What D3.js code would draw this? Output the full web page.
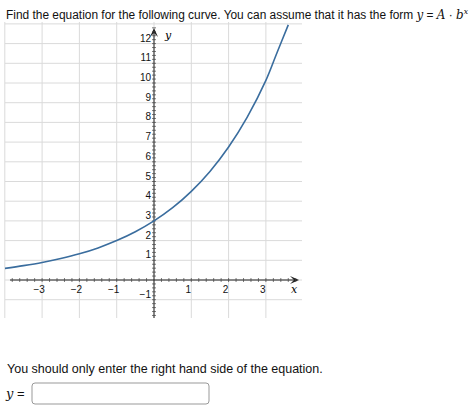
<!DOCTYPE html><html><head><meta charset="utf-8">
<script src="https://cdn.jsdelivr.net/npm/d3@7"></script>
<style>body{margin:0;background:#fff;font-family:"Liberation Sans",Arial,sans-serif}</style></head><body>
<svg id="c" width="474" height="409"></svg>
<script>
const curveX = [-4, -3.5, -3, -2.5, -2, -1.5, -1, -0.5, 0, 0.5, 1, 1.5, 2, 2.5, 3, 3.3, 3.6];
const curveY = [0.59, 0.73, 0.89, 1.09, 1.33, 1.63, 2.0, 2.45, 3.0, 3.67, 4.5, 5.51, 6.75, 8.27, 10.13, 11.55, 12.95];
const xTicks = [-3, -2, -1, 1, 2, 3];
const yTicks = [-1, 1, 2, 3, 4, 5, 6, 7, 8, 9, 10, 11, 12];
const gridX = [-4, -3, -2, -1, 0, 1, 2, 3];
const gridY = [-2, -1, 0, 1, 2, 3, 4, 5, 6, 7, 8, 9, 10, 11, 12, 13];

const svg = d3.select("#c");
const x = d3.scaleLinear().domain([0, 1]).range([154, 191.3]);
const y = d3.scaleLinear().domain([0, 1]).range([280, 260.3]);
const L = 5, R = 302, T = 22, B = 318;

const title = svg.append("text").attr("x", 6).attr("y", 19).attr("font-size", 12.5).attr("fill", "#111");
title.append("tspan").text("Find the equation for the following curve. You can assume that it has the form ");
title.append("tspan").attr("font-family", "DejaVu Serif").attr("font-style", "italic").text("y");
title.append("tspan").text(" = ");
title.append("tspan").attr("font-family", "DejaVu Serif").attr("font-style", "italic").text("A");
title.append("tspan").text(" · ");
title.append("tspan").attr("font-family", "DejaVu Serif").attr("font-style", "italic").text("b");
title.append("tspan").attr("font-family", "DejaVu Serif").attr("font-style", "italic").attr("font-size", 8).attr("dy", -5).text("x");
const tw = title.node().getComputedTextLength();
if (tw > 462) title.attr("textLength", 462).attr("lengthAdjust", "spacingAndGlyphs");

const g = svg.append("g");
g.selectAll(".gx").data(gridX).join("line").attr("x1", d => x(d)).attr("x2", d => x(d)).attr("y1", T).attr("y2", B).attr("stroke", "#dadada");
g.selectAll(".gy").data(gridY.filter(d => y(d) >= T && y(d) <= B)).join("line").attr("y1", d => y(d)).attr("y2", d => y(d)).attr("x1", L).attr("x2", R).attr("stroke", "#dadada");

g.append("line").attr("x1", 10).attr("x2", 296).attr("y1", y(0)).attr("y2", y(0)).attr("stroke", "#222");
g.append("line").attr("x1", x(0)).attr("x2", x(0)).attr("y1", B).attr("y2", 30).attr("stroke", "#222");
g.append("path").attr("d", `M${x(0)-4},37 L${x(0)},28 L${x(0)+4},37 L${x(0)},33Z`).attr("fill", "#222");
g.append("path").attr("d", `M290,${y(0)-4} L299,${y(0)} L290,${y(0)+4} L294,${y(0)}Z`).attr("fill", "#222");
const mx = d3.range(-3.8, 3.81, 0.2).filter(v => Math.abs(v) > 0.01);
g.selectAll(".mx").data(mx).join("line").attr("x1", d => x(d)).attr("x2", d => x(d)).attr("y1", y(0) - 2).attr("y2", y(0) + 2).attr("stroke", "#444").attr("stroke-width", 0.7);
const my = d3.range(-1.8, 12.81, 0.2).filter(v => Math.abs(v) > 0.01);
g.selectAll(".my").data(my).join("line").attr("y1", d => y(d)).attr("y2", d => y(d)).attr("x1", x(0) - 2).attr("x2", x(0) + 2).attr("stroke", "#444").attr("stroke-width", 0.7);

g.selectAll(".tx").data(xTicks).join("text").attr("x", d => x(d) - 3).attr("y", y(0) + 13).attr("text-anchor", "middle").attr("font-size", 10).attr("fill", "#111").text(d => d < 0 ? "−" + (-d) : d);
g.selectAll(".ty").data(yTicks).join("text").attr("x", x(0) - 3).attr("y", d => y(d) - 2).attr("text-anchor", "end").attr("font-size", 10).attr("fill", "#111").text(d => d < 0 ? "−" + (-d) : d);
g.append("text").attr("x", 165).attr("y", 39).attr("font-family", "DejaVu Serif").attr("font-style", "italic").attr("font-size", 11).text("y");
g.append("text").attr("x", 291).attr("y", 293).attr("font-family", "DejaVu Serif").attr("font-style", "italic").attr("font-size", 11).text("x");

const pts = curveX.map((v, i) => [v, curveY[i]]);
svg.append("defs").append("clipPath").attr("id", "cp").append("rect").attr("x", L).attr("y", T).attr("width", R - L).attr("height", B - T);
g.append("path").datum(pts).attr("clip-path", "url(#cp)").attr("fill", "none").attr("stroke", "#3a6d9e").attr("stroke-width", 1.6)
  .attr("d", d3.line().x(d => x(d[0])).y(d => y(d[1])).curve(d3.curveCatmullRom));

svg.append("text").attr("x", 7).attr("y", 373).attr("font-size", 12.5).attr("fill", "#111").text("You should only enter the right hand side of the equation.");
const yl = svg.append("text").attr("x", 6).attr("y", 398).attr("font-size", 13).attr("fill", "#111");
yl.append("tspan").attr("font-family", "DejaVu Serif").attr("font-style", "italic").text("y");
yl.append("tspan").text(" =");
svg.append("rect").attr("x", 32).attr("y", 383).attr("width", 177).attr("height", 21).attr("rx", 3).attr("fill", "#fff").attr("stroke", "#999");
</script></body></html>
